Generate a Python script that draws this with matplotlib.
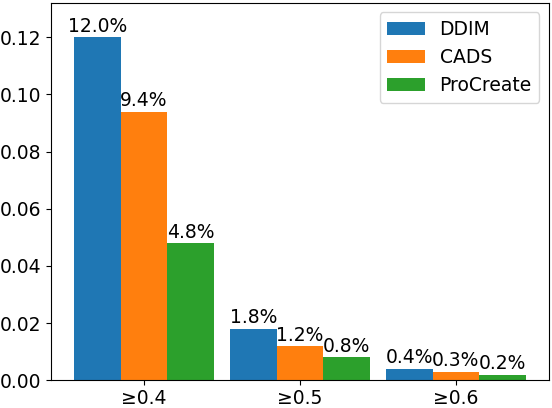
from matplotlib import pyplot as plt
import numpy as np

#Categories and series
groups = ['≥0.4', '≥0.5', '≥0.6']
methods = ['DDIM', 'CADS', 'ProCreate']
ddim = [0.120, 0.018, 0.004]
cads = [0.094, 0.012, 0.003]
procreate = [0.048, 0.008, 0.002]

plt.rcParams['font.size'] = 13.5

fig = plt.figure(figsize = [5.52, 4.08], dpi = 100)
ax = plt.subplot()

x = np.arange(len(groups))
width = 0.3
series = [ddim, cads, procreate]

for i, (name, vals) in enumerate(zip(methods, series)):
    bars = ax.bar(x + (i - 1) * width, vals, width, label = name)
    ax.bar_label(bars, labels = ['%.1f%%' % (v * 100) for v in vals], padding = 1)

ax.set_xticks(x)
ax.set_xticklabels(groups)
ax.tick_params(axis = 'x', pad = 2.5)
ax.set_ylim(0, 0.132)
ax.legend(loc = 'upper right')

plt.subplots_adjust(left = 0.093, right = 0.994, bottom = 0.068, top = 0.993)
plt.savefig('out.png')
